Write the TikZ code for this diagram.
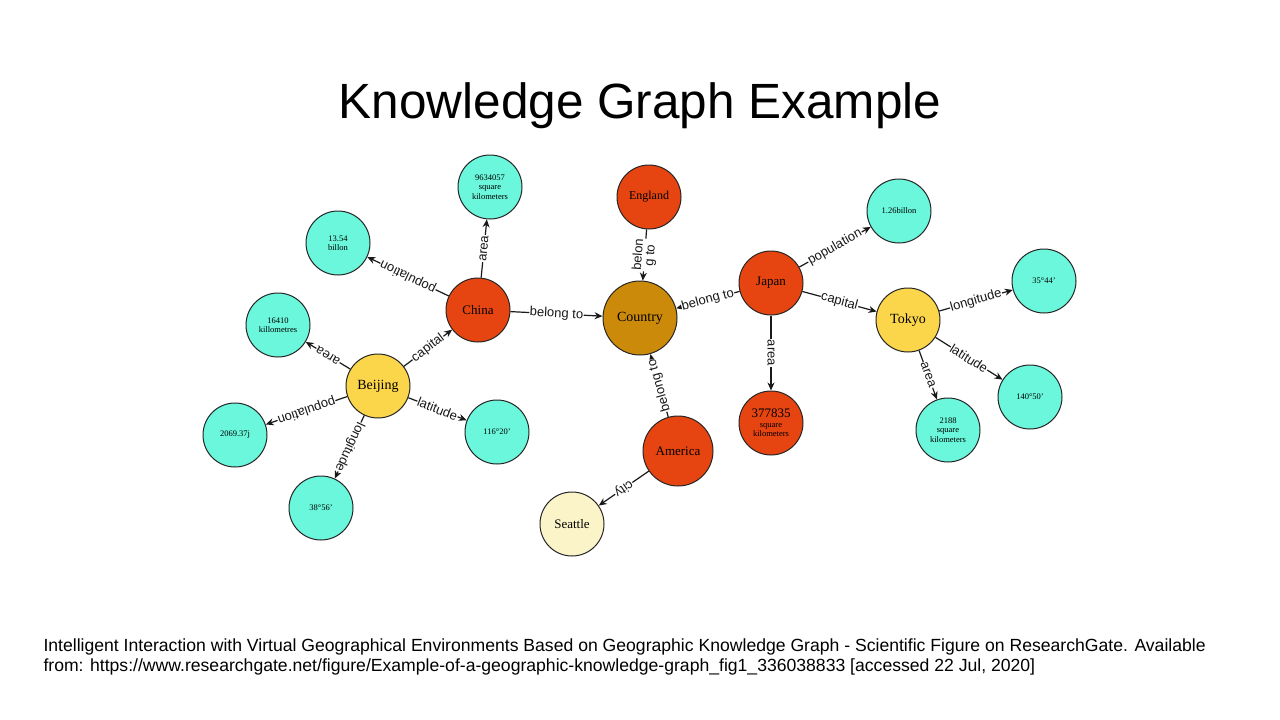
\documentclass[tikz,border=0pt]{standalone}
\usepackage{fontspec}
\usetikzlibrary{arrows.meta}
\setmainfont{Liberation Serif}
\newfontfamily\lsans{Liberation Sans}
\definecolor{teal1}{HTML}{6AF7DB}
\definecolor{red1}{HTML}{E64410}
\definecolor{ctry}{HTML}{CC8A0A}
\definecolor{yel}{HTML}{FCD64A}
\definecolor{seat}{HTML}{FBF4C8}
\begin{document}
\begin{tikzpicture}[x=1pt,y=-1pt,
  nd/.style={circle,draw=black!85,line width=1pt,minimum size=64pt,inner sep=0pt,align=center,font=\fontsize{8.5}{9.5}\selectfont},
  lf/.style={nd,fill=teal1},
  rd/.style={nd,fill=red1,font=\fontsize{13}{14}\selectfont},
  yl/.style={nd,fill=yel,font=\fontsize{14}{15}\selectfont},
  ed/.style={-{Stealth[length=8pt,width=7pt]},line width=1.2pt,black!90},
  lb/.style={sloped,allow upside down,fill=white,inner sep=0.5pt,font=\lsans\fontsize{13}{13}\selectfont}]
\useasboundingbox (0,0) rectangle (1280,720);
\node[font=\lsans\fontsize{49.5}{52}\selectfont] (title) at (640,106) {Knowledge Graph Example};
\node (china) [rd] at (478,310) {China};
\node (country) [nd,fill=ctry,minimum size=74pt,font=\fontsize{14}{15}\selectfont] at (640,318) {Country};
\node (england) [rd,font=\fontsize{12}{13}\selectfont] at (649,197) {England};
\node (japan) [rd] at (771,283) {Japan};
\node (america) [rd,minimum size=70pt] at (678,451) {America};
\node (seattle) [nd,fill=seat,font=\fontsize{13}{14}\selectfont] at (572,524) {Seattle};
\node (jarea) [nd,fill=red1] at (771,423) {{\fontsize{13}{13}\selectfont 377835}\\square\\kilometers};
\node (tokyo) [yl] at (908,320) {Tokyo};
\node (jpop) [lf] at (899,211) {1.26billon};
\node (tlong) [lf] at (1044,281) {35°44'};
\node (tlat) [lf] at (1030,397) {140°50'};
\node (tarea) [lf] at (948,430) {2188\\square\\kilometers};
\node (beijing) [yl] at (378,386) {Beijing};
\node (carea) [lf] at (490,187) {9634057\\square\\kilometers};
\node (cpop) [lf] at (338,243) {13.54\\billon};
\node (barea) [lf] at (278,325) {16410\\killometres};
\node (bpop) [lf] at (235,435) {2069.37j};
\node (blong) [lf] at (321,508) {38°56'};
\node (blat) [lf] at (497,432) {116°20'};
\draw[ed] (china) -- node[lb]{belong to} (country);
\draw[ed] (china) -- node[lb]{area} (carea);
\draw[ed] (china) -- node[lb]{population} (cpop);
\draw[ed] (beijing) -- node[lb]{capital} (china);
\draw[ed] (beijing) -- node[lb]{area} (barea);
\draw[ed] (beijing) -- node[lb]{population} (bpop);
\draw[ed] (beijing) -- node[lb]{longitude} (blong);
\draw[ed] (beijing) -- node[lb]{latitude} (blat);
\draw[ed,{Stealth[length=8pt,width=7pt]}-] (country) -- node[lb,align=center,font=\lsans\fontsize{13}{12}\selectfont]{belon\\g to} (england);
\draw[ed,{Stealth[length=8pt,width=7pt]}-] (country) -- node[lb]{belong to} (japan);
\draw[ed] (america) -- node[lb]{belong to} (country);
\draw[ed] (america) -- node[lb]{city} (seattle);
\draw[ed] (japan) -- node[lb]{population} (jpop);
\draw[ed] (japan) -- node[lb]{capital} (tokyo);
\draw[ed] (japan) -- node[lb]{area} (jarea);
\draw[ed] (tokyo) -- node[lb]{longitude} (tlong);
\draw[ed] (tokyo) -- node[lb]{latitude} (tlat);
\draw[ed] (tokyo) -- node[lb]{area} (tarea);
\node (cite) [anchor=north west,align=left,font=\lsans\fontsize{17.6}{20}\selectfont] at (40,635) {Intelligent Interaction with Virtual Geographical Environments Based on Geographic Knowledge Graph - Scientific Figure on ResearchGate. Available\\from: https://www.researchgate.net/figure/Example-of-a-geographic-knowledge-graph\_fig1\_336038833 [accessed 22 Jul, 2020]};
\end{tikzpicture}
\end{document}
